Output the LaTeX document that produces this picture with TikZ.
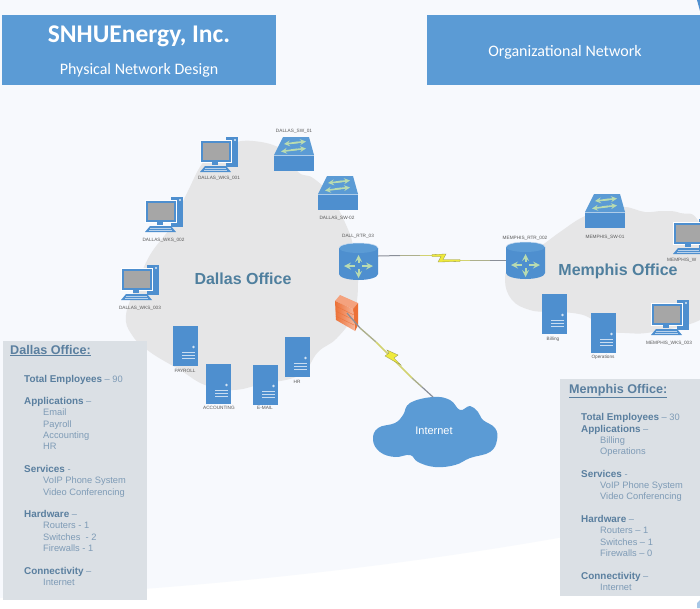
\documentclass[tikz,border=0pt]{standalone}
\usepackage{fontspec}
\setmainfont{Liberation Sans}
\newfontfamily\headfont{Carlito}
\usepackage{xcolor}
\usetikzlibrary{arrows,positioning,shapes,calc}
\definecolor{headblue}{HTML}{5B9BD5}
\definecolor{iconblue}{HTML}{4E8FCF}
\definecolor{arrowgreen}{HTML}{B9DBB0}
\definecolor{cloudgray}{HTML}{E6E6E7}
\definecolor{panelgray}{HTML}{DBE0E5}
\definecolor{palebg}{HTML}{F7F9FD}
\definecolor{paneltext}{HTML}{7E9BB6}
\definecolor{panelbold}{HTML}{5A7F9F}
\definecolor{officeblue}{HTML}{4F7F9E}
\definecolor{boltyellow}{HTML}{EFEA3C}
\definecolor{linkgray}{HTML}{8A8F98}
\definecolor{linkmix}{HTML}{ADB08C}
\definecolor{linkolive}{HTML}{D2D270}
\definecolor{fwdeep}{HTML}{EC7036}
\definecolor{fwpale}{HTML}{F6B79C}
\definecolor{fwsalmon}{HTML}{F4A27E}
\newcommand\bhead[1]{\textcolor{panelbold}{\fontsize{9.9}{11.3}\selectfont\textbf{#1}}}
\tikzset{
  headbox/.style = {fill = headblue, minimum height = 70pt, inner sep = 0pt, anchor = north west},
  headtext/.style = {font = \headfont\fontsize{16}{18}\selectfont, text = white, inner sep = 0pt},
  devlabel/.style = {font = \fontsize{4.7}{5}\selectfont, text = black!65, inner sep = 0pt},
  officelabel/.style = {font = \bfseries\fontsize{16}{18}\selectfont, text = officeblue, inner sep = 0pt},
  panelhead/.style = {anchor = base west, font = \bfseries\fontsize{12.6}{14}\selectfont, text = panelbold, inner sep = 0pt},
  paneltextbox/.style = {anchor = north west, align = left, text = paneltext, inner sep = 0pt, font = \fontsize{9.3}{11.3}\selectfont},
  boltshape/.style = {fill = boltyellow, draw = linkolive!70!black, line width = .3pt},
  iconarrow/.style = {draw = arrowgreen, line width = 2pt, -stealth},
  pics/wksicon/.style = {code = {
    \fill[iconblue] (26,0) rectangle (38,30);
    \fill[white!80!iconblue] (35,3) circle (1.1);
    \fill[iconblue, draw = white, line width = .5pt] (0,3) rectangle (31,25);
    \fill[black!35] (2.5,5.5) rectangle (28.5,22.5);
    \fill[iconblue] (12,25) rectangle (18,28);
    \fill[iconblue] (5,29) -- (26,29) -- (31,35) -- (0,35) -- cycle;
    \draw[white!60!iconblue, line width = .4pt] (5,31) -- (26,31) (4,33) -- (27,33);
  }},
  pics/switchicon/.style = {code = {
    \fill[headblue] (0,18) -- (9,0) -- (35,0) -- (40,18) -- cycle;
    \fill[iconblue] (0,18.5) rectangle (40,34);
    \draw[white!55!iconblue, line width = .5pt] (0,18.5) -- (40,18.5);
    \draw[iconarrow, line width = 1.6pt] (18,6) -- (32,4.5);
    \draw[iconarrow, line width = 1.6pt] (24,5.5) -- (10,7);
    \draw[iconarrow, line width = 1.6pt] (17,13) -- (32,11.5);
    \draw[iconarrow, line width = 1.6pt] (23,12.5) -- (7,14.5);
  }},
  pics/routericon/.style = {code = {
    \fill[iconblue] (0,6) -- (39,6) -- (39,32) arc[start angle = 0, end angle = 180, x radius = 19.5, y radius = 6] -- cycle;
    \fill[headblue] (19.5,6) ellipse[x radius = 19.5, y radius = 5];
    \draw[white!70!iconblue, line width = .5pt] (0,6) arc[start angle = 180, end angle = 360, x radius = 19.5, y radius = 5];
    \draw[iconarrow] (19.5,21) -- (19.5,13);
    \draw[iconarrow] (19.5,27) -- (19.5,36);
    \draw[iconarrow] (16,24) -- (5,24);
    \draw[iconarrow] (23,24) -- (34,24);
    \coordinate (-e) at (39,14);
    \coordinate (-w) at (0,19.5);
  }},
  pics/servericon/.style = {code = {
    \fill[iconblue] (0,0) rectangle (25,40);
    \fill[white!75!iconblue] (20.5,21) circle (1.3);
    \draw[white!70!iconblue, line width = .7pt] (9,26) -- (22,26) (9,29) -- (22,29) (9,32) -- (22,32);
  }},
  pics/firewallicon/.style = {code = {
    \fill[fwsalmon] (0,6) -- (5,0) -- (23,8) -- (18,14) -- cycle;
    \fill[fwdeep] (18,14) -- (23,8) -- (23,30) -- (20,36) -- cycle;
    \shade[left color = fwdeep, right color = fwpale] (0,6) -- (18,14) -- (20,36) -- (1,25) -- cycle;
    \foreach \d in {11,16,21} {
      \draw[fwdeep, line width = .3pt] (0.5,\d) -- (19,{\d+9});
    }
    \coordinate (-c) at (12,18);
  }}
}
\begin{document}
\begin{tikzpicture}[x = 1pt, y = -1pt]
\useasboundingbox (0,0) rectangle (700,608);
% background and clouds
\fill[white] (0,0) rectangle (700,608);
\fill[palebg] (0,0) -- (700,0) -- (700,510) .. controls (450,565) and (200,588) .. (0,598) -- cycle;
\fill[iconblue] (697,0) -- (700,0) -- (700,11) -- cycle;
\fill[iconblue!50!white] (697,603) -- (700,600) -- (700,608) -- (697,608) -- cycle;
\fill[cloudgray] plot[smooth cycle, tension = .7] coordinates {(253,141) (283,150) (298,172) (313,178) (330,195) (347,227) (354,250) (358,278) (354,313) (337,338) (318,352) (300,375) (262,384) (233,390) (205,385) (180,370) (150,352) (132,335) (126,315) (137,285) (150,255) (172,225) (187,193) (205,160) (228,145)};
\fill[cloudgray] plot[smooth cycle, tension = .7] coordinates {(505,280) (512,262) (535,250) (560,232) (583,217) (605,210) (625,207) (645,212) (663,211) (680,213) (700,225) (715,300) (700,320) (653,332) (625,333) (603,330) (590,318) (573,313) (550,312) (530,310) (512,300)};
% headers
\node[headbox, minimum width = 274pt] (titlebox) at (2,15) {};
\node[headtext, font = \headfont\bfseries\fontsize{25.5}{27}\selectfont] (title) at (139,36) {SNHUEnergy, Inc.};
\node[headtext] (subtitle) at (139,70) {Physical Network Design};
\node[headbox, minimum width = 273pt] (orgbox) at (427,15) {};
\node[headtext] (orgtext) at (565,52) {Organizational Network};
% Dallas devices
\pic (wksone) at (200,137) {wksicon};
\node[devlabel] (wksonelabel) at (219,178) {DALLAS\_WKS\_001};
\pic (wkstwo) at (145,197) {wksicon};
\node[devlabel] (wkstwolabel) at (163.5,240) {DALLAS\_WKS\_002};
\pic (wksthree) at (121,265) {wksicon};
\node[devlabel] (wksthreelabel) at (140,308) {DALLAS\_WKS\_003};
\pic (swone) at (274,137) {switchicon};
\node[devlabel] (swonelabel) at (294,131) {DALLAS\_SW\_01};
\pic (swtwo) at (318,176) {switchicon};
\node[devlabel] (swtwolabel) at (337,218) {DALLAS\_SW-02};
\pic (rtrdal) at (339,242) {routericon};
\node[devlabel] (rtrdallabel) at (358,236) {DALL\_RTR\_03};
\pic (payroll) at (173,326) {servericon};
\node[devlabel] (payrolllabel) at (185,371) {PAYROLL};
\pic (accounting) at (206,364) {servericon};
\node[devlabel] (accountinglabel) at (219,408) {ACCOUNTING};
\pic (email) at (253,365) {servericon};
\node[devlabel] (emaillabel) at (265,408) {E-MAIL};
\pic (hrsrv) at (285,337) {servericon};
\node[devlabel] (hrlabel) at (297,382) {HR};
\pic (firewall) at (335,295) {firewallicon};
% Memphis devices
\pic (swmem) at (585,194) {switchicon};
\node[devlabel] (swmemlabel) at (605,237) {MEMPHIS\_SW-01};
\pic (rtrmem) at (506,241) {routericon};
\node[devlabel] (rtrmemlabel) at (525,238) {MEMPHIS\_RTR\_002};
\begin{scope}
\clip (0,0) rectangle (700,608);
\pic (wksmemtwo) at (673,219) {wksicon};
\end{scope}
\node[devlabel, anchor = west] (wksmemtwolabel) at (667,260) {MEMPHIS\_W};
\pic (wksmemthree) at (651,300) {wksicon};
\node[devlabel] (wksmemthreelabel) at (669,343) {MEMPHIS\_WKS\_003};
\pic (billing) at (542,294) {servericon};
\node[devlabel] (billinglabel) at (553,339) {Billing};
\pic (operations) at (591,313) {servericon};
\node[devlabel] (operationslabel) at (603,357) {Operations};
% office names
\node[officelabel] (dallasname) at (243,279) {Dallas Office};
\node[officelabel] (memphisname) at (618,271) {Memphis Office};
% internet cloud
\fill[headblue] plot[smooth cycle, tension = .7] coordinates {(373,440) (378,428) (395,423) (403,415) (410,403) (433,397) (450,400) (460,410) (470,406) (478,412) (483,420) (495,428) (497,440) (490,452) (470,458) (455,465) (435,467) (418,462) (410,455) (395,457) (380,452)};
\node[font = \fontsize{11}{13}\selectfont, text = white, inner sep = 0pt] (internet) at (434,431) {Internet};
\coordinate (inettop) at (433,397);
% links
\coordinate (wana) at (400,255.5);
\coordinate (wanb) at (420,255.5);
\coordinate (wanc) at (470,260.5);
\coordinate (wand) at (490,260.5);
\draw[linkgray, line width = 1pt] (rtrdal-e) -- (wana);
\draw[linkmix, line width = 1.2pt] (wana) -- (wanb);
\draw[linkolive, line width = 1.4pt] (wanb) -- (440,255.5);
\draw[linkolive, line width = 1.4pt] (450,260.5) -- (wanc);
\draw[linkmix, line width = 1.2pt] (wanc) -- (wand);
\draw[linkgray, line width = 1pt] (wand) -- (rtrmem-w);
\fill[boltshape] (432,254.5) -- (446,254) -- (443,259.5) -- (460,259.5) -- (460,261.5) -- (438,262) -- (441,256.5) -- (432,256.5) -- cycle;
\coordinate (fwa) at (360,328);
\coordinate (fwb) at (376,342);
\coordinate (inetb) at (412,378);
\coordinate (ineta) at (422,387);
\draw[linkgray, line width = 1.2pt] (firewall-c) -- (fwa);
\draw[linkmix, line width = 1.4pt] (fwa) -- (fwb);
\draw[linkolive, line width = 1.6pt] (fwb) -- (inetb);
\draw[linkmix, line width = 1.4pt] (inetb) -- (ineta);
\draw[linkgray, line width = 1.2pt] (ineta) -- (inettop);
\fill[boltshape] (387,350) -- (398,355) -- (394,358) -- (401,365) -- (392,360) -- (385,356) -- (389,353) -- cycle;
% panels
\fill[panelgray] (3,341) rectangle (147,600);
\fill[panelgray] (560,379) rectangle (700,596);
\node[panelhead] (dallashead) at (10,354) {\underline{Dallas Office:}};
\node[paneltextbox] (dallastext) at (24,374.7) {%
\bhead{Total Employees} -- 90\\[11.3pt]
\bhead{Applications} --\\
\hspace*{19pt}Email\\
\hspace*{19pt}Payroll\\
\hspace*{19pt}Accounting\\
\hspace*{19pt}HR\\[11.3pt]
\bhead{Services} -\\
\hspace*{19pt}VoIP Phone System\\
\hspace*{19pt}Video Conferencing\\[11.3pt]
\bhead{Hardware} --\\
\hspace*{19pt}Routers - 1\\
\hspace*{19pt}Switches\ \ - 2\\
\hspace*{19pt}Firewalls - 1\\[11.3pt]
\bhead{Connectivity} --\\
\hspace*{19pt}Internet};
\node[panelhead] (memphishead) at (569,393) {\underline{Memphis Office:}};
\node[paneltextbox] (memphistext) at (581,413.5) {%
\bhead{Total Employees} -- 30\\
\bhead{Applications} --\\
\hspace*{19pt}Billing\\
\hspace*{19pt}Operations\\[11.3pt]
\bhead{Services} -\\
\hspace*{19pt}VoIP Phone System\\
\hspace*{19pt}Video Conferencing\\[11.3pt]
\bhead{Hardware} --\\
\hspace*{19pt}Routers -- 1\\
\hspace*{19pt}Switches -- 1\\
\hspace*{19pt}Firewalls -- 0\\[11.3pt]
\bhead{Connectivity} --\\
\hspace*{19pt}Internet};
\end{tikzpicture}
\end{document}
